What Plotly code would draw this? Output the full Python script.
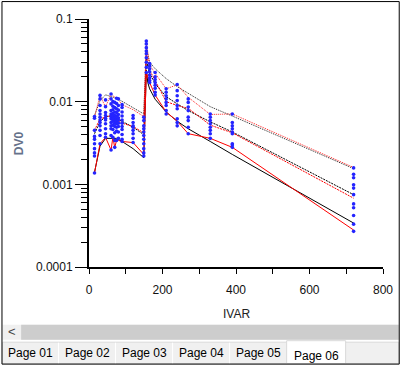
import plotly.graph_objects as go

# ---------------- data ----------------
obs_times = [15, 30, 45, 60, 65, 70, 75, 80, 90, 120, 149, 156, 165, 180, 210, 240, 270, 330, 390, 720]
obs_values = [
    [0.0066, 0.0063, 0.0045, 0.0038, 0.0035, 0.0031, 0.0027, 0.0024, 0.0022, 0.00137],
    [0.0119, 0.0108, 0.0090, 0.0078, 0.0071, 0.0065, 0.0060, 0.0056, 0.0051, 0.0045, 0.0039, 0.0031],
    [0.0105, 0.0087, 0.0074, 0.0068, 0.0063, 0.0060, 0.0054, 0.0047, 0.0041, 0.0037],
    [0.0124, 0.0108, 0.0094, 0.0078, 0.0071, 0.0066, 0.0062, 0.0056, 0.0051, 0.0047, 0.0039, 0.0026],
    [0.0100, 0.0088, 0.0080, 0.0072, 0.0066, 0.0061, 0.0058, 0.0052, 0.0046, 0.0037],
    [0.0098, 0.0085, 0.0075, 0.0068, 0.0063, 0.0059, 0.0055, 0.0050, 0.0042, 0.0034, 0.0028],
    [0.0110, 0.0095, 0.0082, 0.0074, 0.0067, 0.0062, 0.0058, 0.0054, 0.0049, 0.0044, 0.0034],
    [0.0108, 0.0090, 0.0079, 0.0070, 0.0064, 0.0060, 0.0055, 0.0050, 0.0043, 0.0036],
    [0.0092, 0.0085, 0.0075, 0.0067, 0.0060, 0.0055, 0.0050, 0.0046, 0.0040, 0.0035, 0.0033],
    [0.0068, 0.0063, 0.0056, 0.0051, 0.0049, 0.0045, 0.0041, 0.0036, 0.0032],
    [0.0065, 0.0059, 0.0051, 0.0047, 0.0043, 0.0039, 0.0035, 0.0031, 0.0027, 0.0024, 0.0022],
    [0.054, 0.050, 0.045, 0.041, 0.038, 0.034, 0.030, 0.026, 0.0225],
    [0.029, 0.027, 0.025, 0.023, 0.021, 0.0195, 0.018, 0.017],
    [0.0225, 0.020, 0.0185, 0.017, 0.0158, 0.0145, 0.013, 0.012],
    [0.0143, 0.0130, 0.0118, 0.0108, 0.0098, 0.0090, 0.0078, 0.0071],
    [0.0161, 0.0136, 0.0118, 0.0103, 0.0090, 0.0082, 0.0062, 0.0056, 0.0051],
    [0.0108, 0.0098, 0.0086, 0.0078, 0.0065, 0.0059, 0.0049, 0.0041],
    [0.0071, 0.0065, 0.0059, 0.0054, 0.0049, 0.0045, 0.0041, 0.0036],
    [0.0071, 0.0056, 0.0051, 0.0047, 0.0043, 0.0041, 0.0031, 0.0030, 0.0028],
    [0.00158, 0.00132, 0.00120, 0.00099, 0.00090, 0.00075, 0.00058, 0.00052, 0.00042, 0.00033, 0.00027],
]

# observed percentiles (red)
obs_p95 = [0.0065, 0.0119, 0.0086, 0.0124, 0.0118, 0.0113, 0.0110, 0.0105, 0.0092, 0.0080, 0.0066,
           0.052, 0.028, 0.022, 0.0143, 0.0160, 0.0113, 0.0070, 0.0071, 0.0016]
obs_p50 = [0.0045, 0.0062, 0.0065, 0.0068, 0.0064, 0.0062, 0.0060, 0.0058, 0.0055, 0.0050, 0.0042,
           0.040, 0.024, 0.018, 0.0100, 0.0090, 0.0083, 0.0052, 0.0042, 0.00068]
obs_p05 = [0.00137, 0.0031, 0.0037, 0.0026, 0.0037, 0.0028, 0.0034, 0.0034, 0.0033, 0.0032, 0.0023,
           0.0225, 0.017, 0.012, 0.0075, 0.0058, 0.0041, 0.0036, 0.0028, 0.00028]

# simulated percentiles (black)
sim_times = [15, 30, 45, 60, 75, 90, 120, 149, 156, 160, 165, 180, 210, 240, 270, 330, 390, 720]
sim_p95 = [0.0068, 0.0103, 0.0121, 0.0115, 0.0110, 0.0101, 0.0085, 0.0071,
           0.045, 0.036, 0.030, 0.025, 0.019, 0.0152, 0.0127, 0.0087, 0.0067, 0.00155]
sim_p50 = [0.0041, 0.0057, 0.0066, 0.0067, 0.0063, 0.0058, 0.0049, 0.0040,
           0.034, 0.026, 0.022, 0.0165, 0.0115, 0.0094, 0.0078, 0.0057, 0.0043, 0.00075]
sim_p05 = [0.0014, 0.0029, 0.0036, 0.0036, 0.0036, 0.0033, 0.0027, 0.0021,
           0.024, 0.017, 0.0143, 0.0107, 0.0075, 0.0058, 0.0047, 0.0033, 0.0023, 0.00034]

tabs = ["Page 01", "Page 02", "Page 03", "Page 04", "Page 05", "Page 06"]

# ---------------- figure ----------------
W, H = 405, 365
L, R, T, B = 89, 17, 18, 98
PW, PH = W - L - R, H - T - B


def px(x):
    return (x - L) / PW


def py(y):
    return (H - B - y) / PH


fig = go.Figure()

line_specs = [
    (sim_times, sim_p95, "#222222", "1px,1px", 1),
    (sim_times, sim_p50, "black", "2px,1px", 1),
    (sim_times, sim_p05, "black", "solid", 1),
    (obs_times, obs_p95, "#ff2020", "1px,1px", 1),
    (obs_times, obs_p50, "red", "2px,1px", 1),
    (obs_times, obs_p05, "red", "solid", 1),
]
for xs, ys, col, dash, w in line_specs:
    fig.add_trace(go.Scatter(x=xs, y=ys, mode="lines",
                             line=dict(color=col, dash=dash, width=w),
                             hoverinfo="skip", showlegend=False))

ox, oy = [], []
for t, vals in zip(obs_times, obs_values):
    ox += [t] * len(vals)
    oy += vals
fig.add_trace(go.Scatter(x=ox, y=oy, mode="markers",
                         marker=dict(color="#2424ff", size=3.6, line=dict(width=0)),
                         showlegend=False))

font = "Liberation Sans, Arial, sans-serif"

fig.update_xaxes(range=[0, 800], tick0=0, dtick=200, ticks="outside", ticklen=5,
                 tickcolor="black", tickwidth=1, showline=True, linecolor="black",
                 linewidth=2, showgrid=False, zeroline=False,
                 tickfont=dict(family=font, size=12, color="#111"),
                 ticklabelstandoff=6,
                 minor=dict(dtick=100, ticks="outside", ticklen=5, tickcolor="black",
                            showgrid=False))
fig.update_yaxes(type="log", range=[-4, -1], dtick=1, ticks="outside", ticklen=12,
                 tickcolor="black", tickwidth=1, showline=True, linecolor="black",
                 linewidth=2, showgrid=False, zeroline=False,
                 tickvals=[0.0001, 0.001, 0.01, 0.1],
                 ticktext=["0.0001", "0.001", "0.01", "0.1"],
                 tickfont=dict(family=font, size=12, color="#111"),
                 minor=dict(ticks="outside", ticklen=6, tickcolor="black",
                            dtick="D1", showgrid=False))

shapes = []
ann = []
# scrollbar
shapes.append(dict(type="rect", xref="paper", yref="paper", x0=px(1), x1=px(404),
                   y0=py(340), y1=py(325), fillcolor="#f0f0f0", line=dict(width=0), layer="above"))
shapes.append(dict(type="rect", xref="paper", yref="paper", x0=px(20), x1=px(404),
                   y0=py(340), y1=py(325), fillcolor="#cdcdcd", line=dict(width=0), layer="above"))
ann.append(dict(text="<", xref="paper", yref="paper", x=px(11), y=py(332), showarrow=False,
                font=dict(family=font, size=13, color="#444"), xanchor="center", yanchor="middle"))
# tab strip
shapes.append(dict(type="rect", xref="paper", yref="paper", x0=px(1), x1=px(404),
                   y0=py(364), y1=py(342.5), fillcolor="#f0f0f0",
                   line=dict(width=1, color="#d9d9d9"), layer="above"))
tab_edges = [2, 58, 116, 174, 232, 290, 350]
for i, name in enumerate(tabs):
    x0, x1 = tab_edges[i], tab_edges[i + 1]
    sel = (i == len(tabs) - 1)
    if sel:
        shapes.append(dict(type="rect", xref="paper", yref="paper", x0=px(x0), x1=px(x1),
                           y0=py(364), y1=py(341), fillcolor="white",
                           line=dict(width=1, color="#d9d9d9"), layer="above"))
    else:
        shapes.append(dict(type="line", xref="paper", yref="paper", x0=px(x1), x1=px(x1),
                           y0=py(364), y1=py(343), line=dict(width=1, color="#ffffff"), layer="above"))
    ann.append(dict(text=name, xref="paper", yref="paper", x=px((x0 + x1) / 2),
                    y=py(356 if sel else 353), showarrow=False,
                    font=dict(family=font, size=12, color="black"),
                    xanchor="center", yanchor="middle"))
# outer frame
shapes.append(dict(type="rect", xref="paper", yref="paper", x0=px(0.5), x1=px(404.5),
                   y0=py(364.5), y1=py(0.5), line=dict(width=1, color="black"), layer="above"))

# axis titles
ann.append(dict(text="IVAR", xref="paper", yref="paper", x=px(238.5), y=py(314), showarrow=False,
                font=dict(family=font, size=12, color="#222"), xanchor="center", yanchor="middle"))
ann.append(dict(text="<b>DV0</b>", xref="paper", yref="paper", x=px(18), y=py(142.5), showarrow=False,
                textangle=-90, font=dict(family=font, size=12, color="#66728a"),
                xanchor="center", yanchor="middle"))

fig.update_layout(width=W, height=H, margin=dict(l=L, r=R, t=T, b=B),
                  paper_bgcolor="white", plot_bgcolor="white",
                  shapes=shapes, annotations=ann, showlegend=False)

fig.write_html("out.html", config={"displayModeBar": False},
               post_script="document.body.style.margin='0';document.body.style.overflow='hidden';")
